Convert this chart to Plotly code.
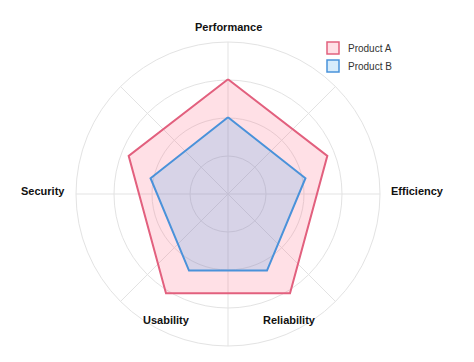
import math
import plotly.graph_objects as go

# ---- data ----
categories = ["Performance", "Efficiency", "Reliability", "Usability", "Security"]
series_names = ["Product A", "Product B"]
product_a_r = [75.5, 70, 77, 77, 70]
product_a_theta = [90, 21, -58, -122, 159]
product_b_r = [50.5, 52, 56.5, 56.5, 52]
product_b_theta = [90, 11.5, -63, -117, 168.5]

# label placement (style, not data)
label_r = [110, 124.5, 92.5, 92.5, 121.5]
label_theta = [90, 1, -64, -116, 179]

line_colors = ["rgb(226,96,126)", "rgb(74,146,218)"]
fill_colors = ["rgba(255,99,132,0.2)", "rgba(54,162,235,0.2)"]

FONT = "Liberation Sans, Arial, sans-serif"
W, H = 474, 362
OFF = 8  # browser default body margin shifts the figure by 8px
cx, cy, R = 228 - OFF, 194 - OFF, 152
RMAX = 100


def closed(v):
    return list(v) + [v[0]]


fig = go.Figure()
for name, rr, tt, lc, fc in zip(series_names, [product_a_r, product_b_r],
                                [product_a_theta, product_b_theta], line_colors, fill_colors):
    fig.add_trace(go.Scatterpolar(
        r=closed(rr), theta=closed(tt), thetaunit="degrees",
        mode="lines", fill="toself", name=name,
        line=dict(color=lc, width=2), fillcolor=fc, hoverinfo="skip", showlegend=False,
    ))

annotations = []
for txt, r, th in zip(categories, label_r, label_theta):
    px = cx + r / RMAX * R * math.cos(math.radians(th))
    py = cy - r / RMAX * R * math.sin(math.radians(th))
    annotations.append(dict(x=px / W, y=1 - py / H, xref="paper", yref="paper",
                            text=f"<b>{txt}</b>", showarrow=False,
                            xanchor="center", yanchor="middle",
                            font=dict(family=FONT, size=11, color="#111")))

shapes = []
for i, (name, lc, fc) in enumerate(zip(series_names, line_colors, fill_colors)):
    y0 = 42 - OFF + i * 18
    x0 = 327 - OFF
    shapes.append(dict(type="rect", xref="paper", yref="paper",
                       x0=x0 / W, x1=(x0 + 12) / W, y0=1 - (y0 + 12) / H, y1=1 - y0 / H,
                       line=dict(color=lc, width=1.5), fillcolor=fc))
    annotations.append(dict(x=(x0 + 19) / W, y=1 - (y0 + 6.5) / H, xref="paper", yref="paper",
                            text=name, showarrow=False, xanchor="left", yanchor="middle",
                            font=dict(family=FONT, size=10, color="#333")))

fig.update_layout(
    width=W, height=H,
    margin=dict(l=0, r=0, t=0, b=0, pad=0, autoexpand=False),
    paper_bgcolor="white", plot_bgcolor="white",
    showlegend=False,
    annotations=annotations, shapes=shapes,
    polar=dict(
        domain=dict(x=[(cx - R) / W, (cx + R) / W], y=[(H - cy - R) / H, (H - cy + R) / H]),
        bgcolor="white",
        radialaxis=dict(range=[0, RMAX], tickvals=[25, 50, 75, 100], showticklabels=False,
                        ticks="", showline=False, gridcolor="#e3e3e3", gridwidth=1),
        angularaxis=dict(tickvals=[0, 45, 90, 135, 180, 225, 270, 315], showticklabels=False,
                         ticks="", showline=True, linecolor="#e3e3e3", linewidth=1,
                         gridcolor="#e3e3e3", gridwidth=1, rotation=0,
                         direction="counterclockwise"),
    ),
)
fig.write_html("out.html")
